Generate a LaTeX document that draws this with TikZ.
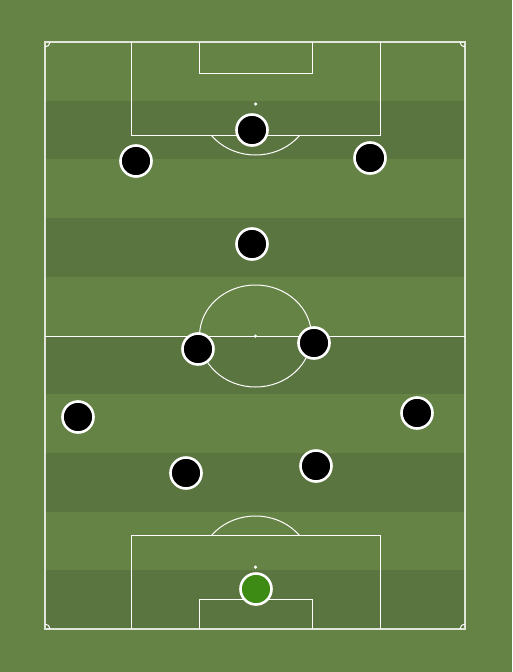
\documentclass[tikz,border=0pt]{standalone}
\usepackage{tikz}
\definecolor{grassLight}{HTML}{658345}
\definecolor{grassDark}{HTML}{5A7540}
\definecolor{keeperGreen}{HTML}{3D8A15}
\tikzset{pitchline/.style={draw=white,line width=1pt},
	outerline/.style={draw=white,draw opacity=0.8,line width=1.2pt},
	player/.style={circle,fill=black,draw=white,line width=2.6pt,minimum size=31pt,inner sep=0pt},
	keeper/.style={player,fill=keeperGreen},
	spot/.style={circle,fill=white,inner sep=0pt,minimum size=3.5pt}}

\begin{document}
\begin{tikzpicture}[x=1pt,y=-1pt]
	\useasboundingbox (0,0) rectangle (512,672);
	\fill[grassLight] (0,0) rectangle (512,672);
	% darker stripes
	\foreach \i in {1,3,5,7,9}
		\fill[grassDark] (45,42+\i*58.7) rectangle (465,42+\i*58.7+58.7);
	% outline and halfway line
	\draw[outerline] (45,42) rectangle (465,629);
	\draw[pitchline] (45,336) -- (465,336);
	\draw[pitchline] (255.5,336) ellipse (56 and 51);
	\node[spot] (centre) at (255.5,336) {};
	% top end
	\draw[pitchline] (131,42) -- (131,135) -- (380,135) -- (380,42);
	\draw[pitchline] (199,42) -- (199,73) -- (312,73) -- (312,42);
	\node[spot] (topspot) at (255.5,104) {};
	\begin{scope}
		\clip (45,135) rectangle (465,200);
		\draw[pitchline] (255.5,104) ellipse (56 and 51);
	\end{scope}
	% bottom end
	\draw[pitchline] (131,629) -- (131,535) -- (380,535) -- (380,629);
	\draw[pitchline] (199,629) -- (199,599) -- (312,599) -- (312,629);
	\node[spot] (bottomspot) at (255.5,567) {};
	\begin{scope}
		\clip (45,470) rectangle (465,535);
		\draw[pitchline] (255.5,567) ellipse (56 and 51);
	\end{scope}
	% corners
	\draw[pitchline] (50,42) arc (0:90:5);
	\draw[pitchline] (460,42) arc (180:90:5);
	\draw[pitchline] (50,629) arc (0:-90:5);
	\draw[pitchline] (460,629) arc (180:270:5);
	% players
	\node[player] (fw) at (252,130) {};
	\node[player] (lw) at (136,161) {};
	\node[player] (rw) at (370,158) {};
	\node[player] (am) at (252,244) {};
	\node[player] (lcm) at (198,349) {};
	\node[player] (rcm) at (314,343) {};
	\node[player] (lb) at (78,417) {};
	\node[player] (rb) at (417,413) {};
	\node[player] (lcb) at (186,473) {};
	\node[player] (rcb) at (316,466) {};
	\node[keeper] (gk) at (256,589) {};
\end{tikzpicture}
\end{document}
